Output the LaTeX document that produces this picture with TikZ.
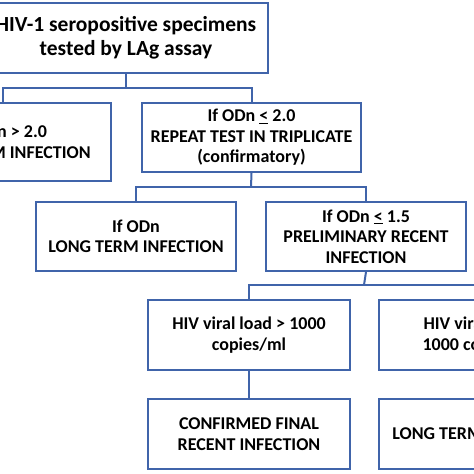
\documentclass[tikz,border=0pt]{standalone}
\usepackage{fontspec}
\setmainfont{Carlito}
\definecolor{boxblue}{RGB}{64,100,170}
\tikzset{
  fbox/.style={draw=boxblue, line width=2pt, fill=white, rectangle, align=center,
    inner sep=0pt, font=\fontsize{18}{20.5}\selectfont\bfseries, text=black},
  conn/.style={draw=boxblue, line width=2pt}
}
\begin{document}
\begin{tikzpicture}[x=1pt,y=1pt]
\fill[white] (0,0) rectangle (474,-474);
\clip (0,0) rectangle (474,-474);
\node[fbox, minimum width=284pt, minimum height=70pt, font=\fontsize{21.5}{24}\selectfont\bfseries] (top) at (126,-38) {HIV-1 seropositive specimens\\tested by LAg assay};
\node[fbox, minimum width=216pt, minimum height=78pt] (l2) at (3,-142) {If ODn > 2.0\\LONG TERM INFECTION};
\node[fbox, minimum width=219pt, minimum height=69pt] (r2) at (251.5,-137.5) {If ODn \underline{<} 2.0\\REPEAT TEST IN TRIPLICATE\\(confirmatory)};
\node[fbox, minimum width=200pt, minimum height=69pt] (l3) at (136,-236.5) {If ODn\\LONG TERM INFECTION};
\node[fbox, minimum width=200pt, minimum height=69pt] (r3) at (366,-236.5) {If ODn \underline{<} 1.5\\PRELIMINARY RECENT\\INFECTION};
\node[fbox, minimum width=202pt, minimum height=70pt] (l4) at (249,-335) {HIV viral load > 1000\\copies/ml};
\node[fbox, minimum width=202pt, minimum height=70pt] (r4) at (480,-335) {HIV viral load \underline{<}\\1000 copies/ml};
\node[fbox, minimum width=202pt, minimum height=70pt] (l5) at (249,-434) {CONFIRMED FINAL\\RECENT INFECTION};
\node[fbox, minimum width=202pt, minimum height=70pt] (r5) at (480,-434) {LONG TERM INFECTION};
\coordinate (j1) at (126,-88);
\coordinate (j2) at (251,-187);
\coordinate (j3) at (364,-285);
\draw[conn] (top.south) -- (j1);
\draw[conn] (j1) -| (l2.north);
\draw[conn] (j1) -| (r2.north);
\draw[conn] (r2.south) -- (j2);
\draw[conn] (j2) -| (l3.north);
\draw[conn] (j2) -| (r3.north);
\draw[conn] (r3.south) -- (j3);
\draw[conn] (j3) -| (l4.north);
\draw[conn] (j3) -| (r4.north);
\draw[conn] (l4.south) -- (l5.north);
\draw[conn] (r4.south) -- (r5.north);
\end{tikzpicture}
\end{document}
